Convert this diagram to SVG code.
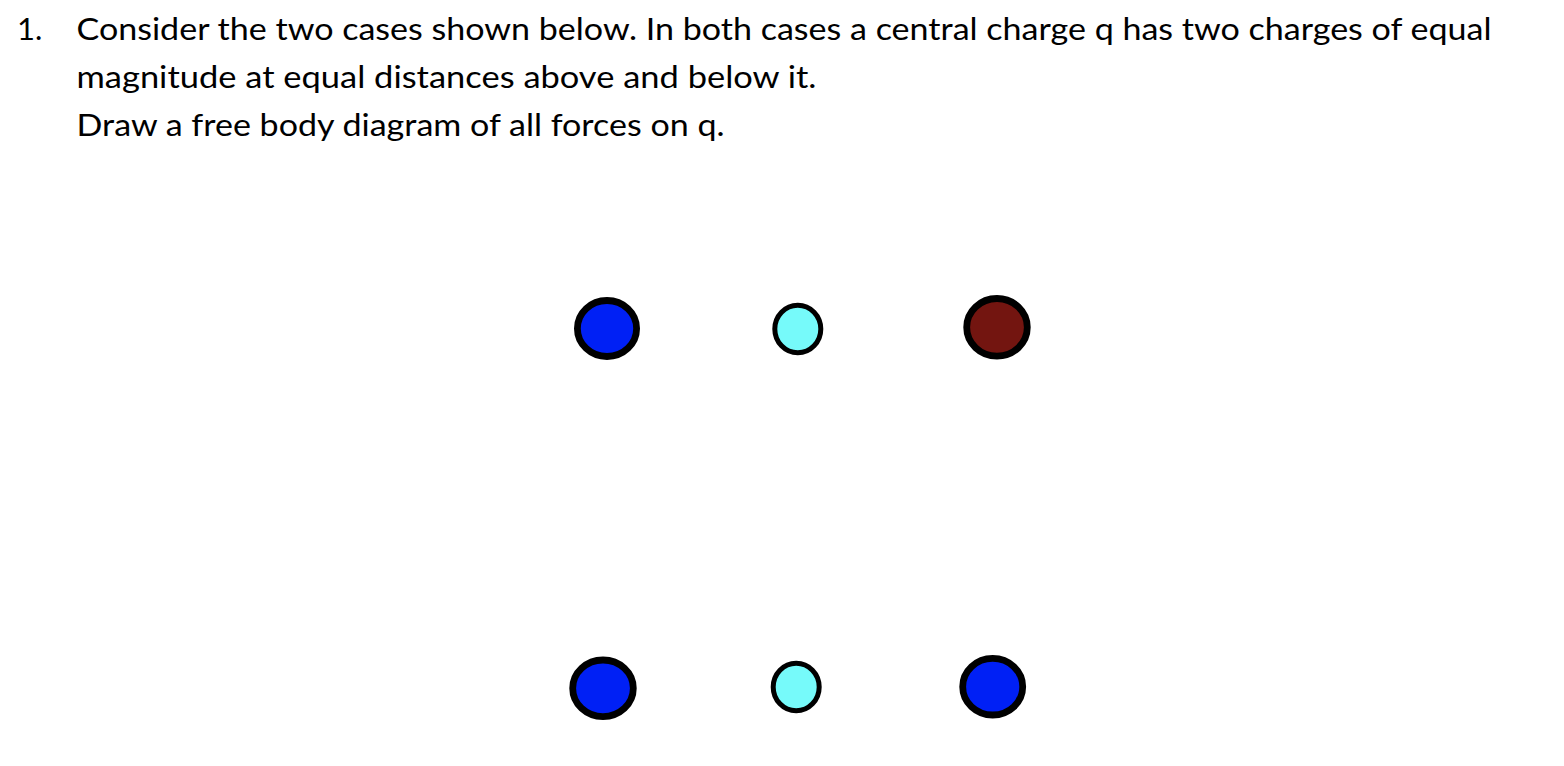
<svg xmlns="http://www.w3.org/2000/svg" width="1564" height="766" viewBox="0 0 1564 766">
<style>
text{font-family:Lato,"Open Sans","Liberation Sans",sans-serif;font-size:31px;fill:#000}
.big{stroke:#000;stroke-width:6.8}
.small{stroke:#000;stroke-width:5}
.blue{fill:#0020F5}
.cyan{fill:#76FAFA}
.red{fill:#731510}
</style>
<rect width="1564" height="766" fill="#fff"/>
<g id="question">
<text x="17" y="40">1.</text>
<text x="76.5" y="40" textLength="1415" lengthAdjust="spacingAndGlyphs">Consider the two cases shown below. In both cases a central charge q has two charges of equal</text>
<text x="76.5" y="88" textLength="740" lengthAdjust="spacingAndGlyphs">magnitude at equal distances above and below it.</text>
<text x="76.5" y="136" textLength="648" lengthAdjust="spacingAndGlyphs">Draw a free body diagram of all forces on q.</text>
</g>
<g id="case1">
<ellipse id="c1-left" class="big blue" cx="607" cy="328.5" rx="29.6" ry="28"/>
<ellipse id="c1-center" class="small cyan" cx="797.8" cy="329" rx="23" ry="23.8"/>
<ellipse id="c1-right" class="big red" cx="997" cy="327.3" rx="30.3" ry="28.8"/>
</g>
<g id="case2">
<ellipse id="c2-left" class="big blue" cx="603" cy="688.3" rx="30.3" ry="28.3"/>
<ellipse id="c2-center" class="small cyan" cx="796.2" cy="687" rx="23" ry="23.8"/>
<ellipse id="c2-right" class="big blue" cx="992.7" cy="686.7" rx="30" ry="28.3"/>
</g>
<g id="connectors"></g>
</svg>
